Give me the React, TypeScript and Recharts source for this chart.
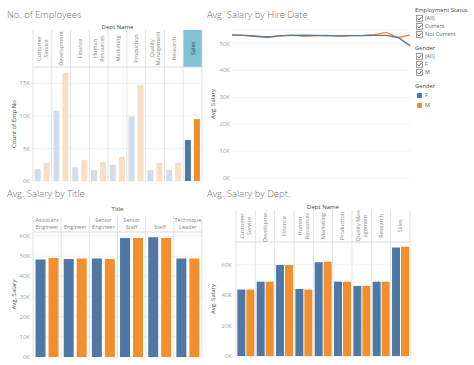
import React from 'react';
import { BarChart, Bar, LineChart, Line, XAxis, YAxis, CartesianGrid, Cell } from 'recharts';

const BLUE = '#4e79a7';
const ORANGE = '#f28e2b';
const BLUE_FADED = '#d3dde8';
const ORANGE_FADED = '#f8dec5';
const HILITE = '#80c2d4';
const RULE = '#dcdcdc';
const FONT = '"Open Sans", "Noto Sans", sans-serif';

// dept names + header wrapping
const depts = ['Customer Service', 'Development', 'Finance', 'Human Resources', 'Marketing', 'Production', 'Quality Management', 'Research', 'Sales'];
const deptHeadersTop = [['Customer', 'Service'], ['Development'], ['Finance'], ['Human', 'Resources'], ['Marketing'], ['Production'], ['Quality', 'Management'], ['Research'], ['Sales']];
const deptHeadersBottom = [['Customer', 'Service'], ['Developme..'], ['Finance'], ['Human', 'Resources'], ['Marketing'], ['Production'], ['Quality Man', 'agement'], ['Research'], ['Sales']];
const selectedDept = 'Sales';

// No. of Employees
const empCountF = [1800, 10800, 2100, 1700, 2500, 9900, 1700, 1700, 6300];
const empCountM = [2800, 16600, 3200, 2900, 3700, 14800, 2800, 2800, 9500];
const empTicks = [0, 5000, 10000, 15000];

// Avg. Salary by Hire Date
const hireYears = [1985, 1986, 1987, 1988, 1989, 1990, 1991, 1992, 1993, 1994, 1995, 1996, 1997, 1998, 1999, 2000];
const hireSalaryF = [53200, 53000, 52700, 52300, 52800, 53000, 53100, 53000, 52900, 52800, 52900, 52900, 53000, 53000, 52200, 49200];
const hireSalaryM = [53200, 53000, 52700, 52400, 52800, 53100, 52700, 52800, 53000, 52700, 52900, 53000, 53300, 54100, 52200, 53100];
const hireTicks = [0, 10000, 20000, 30000, 40000, 50000];

// Avg. Salary by Title
const titles = ['Assistant Engineer', 'Engineer', 'Senior Engineer', 'Senior Staff', 'Staff', 'Technique Leader'];
const titleHeaders = [['Assistant', 'Engineer'], ['Engineer'], ['Senior', 'Engineer'], ['Senior', 'Staff'], ['Staff'], ['Technique', 'Leader']];
const titleSalaryF = [48400, 48600, 48900, 59000, 59400, 48900];
const titleSalaryM = [49100, 48900, 48600, 59000, 59000, 48900];
const titleTicks = [0, 10000, 20000, 30000, 40000, 50000, 60000];

// Avg. Salary by Dept.
const deptSalaryF = [43700, 48900, 59800, 44100, 61600, 48900, 46100, 48900, 71400];
const deptSalaryM = [43700, 48900, 59800, 43700, 62000, 48900, 46100, 48900, 71800];
const deptTicks = [0, 20000, 40000, 60000];

const empData = depts.map((d, i) => ({ dept: d, F: empCountF[i], M: empCountM[i] }));
const hireData = hireYears.map((y, i) => ({ year: y, F: hireSalaryF[i], M: hireSalaryM[i] }));
const titleData = titles.map((t, i) => ({ title: t, F: titleSalaryF[i], M: titleSalaryM[i] }));
const deptSalData = depts.map((d, i) => ({ dept: d, F: deptSalaryF[i], M: deptSalaryM[i] }));

const kFmt = (v: number) => `${Math.round(v / 1000)}K`;
const tickStyle = { fontSize: 6, fill: '#a0a0a0', fontFamily: FONT };

function AxisTitle(props: any) {
  const vb = props.viewBox || { x: 0, y: 0, height: 0 };
  const x = vb.x + props.dx;
  const y = vb.y + vb.height / 2;
  return (
    <text x={x} y={y} transform={`rotate(-90 ${x} ${y})`} textAnchor="middle" dominantBaseline="central" fontSize={6} fill="#444" fontFamily={FONT}>
      {props.text}
    </text>
  );
}

// header cell drawn per category tick: divider rules, optional highlight, label
function HeaderTick(props: any) {
  const { x, payload, index, lines, top, bottom, plotBottom, band, count, rotated, textTop } = props;
  const label: string[] = lines[index] || [];
  const left = x - band / 2;
  const lh = 6.5;
  const hi = payload.value === props.highlight;
  return (
    <g>
      {hi && <rect x={left} y={top} width={band} height={bottom - top} fill={HILITE} />}
      <line x1={left} x2={left} y1={top} y2={plotBottom} stroke={RULE} strokeWidth={0.8} />
      {index === count - 1 && <line x1={left + band} x2={left + band} y1={top} y2={plotBottom} stroke={RULE} strokeWidth={0.8} />}
      <line x1={left} x2={left + band} y1={bottom} y2={bottom} stroke={RULE} strokeWidth={0.8} />
      {rotated ? (
        <text transform={`translate(${x},${(top + bottom) / 2}) rotate(-90)`} textAnchor="middle" fontSize={5.5} fill={hi ? '#333' : '#888'} fontFamily={FONT}>
          {label.map((l, i) => (
            <tspan key={i} x={0} y={(i - (label.length - 1) / 2) * lh + 2}>{l}</tspan>
          ))}
        </text>
      ) : (
        <text textAnchor="middle" fontSize={5.5} fill="#888" fontFamily={FONT}>
          {label.map((l, i) => (
            <tspan key={i} x={x} y={textTop + (i + 1 - label.length) * 7.5}>{l}</tspan>
          ))}
        </text>
      )}
    </g>
  );
}

function Title({ text, left, top }: { text: string; left: number; top: number }) {
  return (
    <div style={{ position: 'absolute', left, top, fontSize: 9.5, fontWeight: 300, color: '#707070', fontFamily: FONT, whiteSpace: 'nowrap', lineHeight: '12px' }}>
      {text}
    </div>
  );
}

function Check({ label, top }: { label: string; top: number }) {
  return (
    <div style={{ position: 'absolute', left: 416, top, display: 'flex', alignItems: 'center', fontSize: 5.5, color: '#666', fontFamily: FONT }}>
      <svg width={7} height={7} style={{ marginRight: 2 }}>
        <rect x={0.5} y={0.5} width={6} height={6} fill="#fff" stroke="#777" strokeWidth={0.7} />
        <polyline points="1.6,3.6 3,5 5.6,1.8" fill="none" stroke="#444" strokeWidth={0.8} />
      </svg>
      {label}
    </div>
  );
}

function Swatch({ color, label, top }: { color: string; label: string; top: number }) {
  return (
    <div style={{ position: 'absolute', left: 417, top, display: 'flex', alignItems: 'center', fontSize: 5.5, color: '#666', fontFamily: FONT }}>
      <span style={{ width: 5, height: 5, background: color, marginRight: 3, display: 'inline-block' }} />
      {label}
    </div>
  );
}

function Head({ text, top }: { text: string; top: number }) {
  return (
    <div style={{ position: 'absolute', left: 415, top, fontSize: 5.8, color: '#444', fontFamily: FONT, whiteSpace: 'nowrap' }}>{text}</div>
  );
}

export default function App() {
  // panel 1 geometry
  const p1 = { w: 210, h: 169, m: { top: 12, right: 8, bottom: 6, left: 0 }, yw: 33, xh: 37 };
  const p1Band = (p1.w - p1.m.right - p1.yw) / depts.length;
  // panel 3 geometry
  const p3 = { w: 210, h: 165, m: { top: 18, right: 8, bottom: 6, left: 0 }, yw: 33, xh: 16 };
  const p3Band = (p3.w - p3.m.right - p3.yw) / titles.length;
  // panel 4 geometry
  const p4 = { w: 214, h: 164, m: { top: 12, right: 4, bottom: 6, left: 0 }, yw: 36, xh: 32 };
  const p4Band = (p4.w - p4.m.right - p4.yw) / depts.length;

  return (
    <div style={{ position: 'absolute', left: 0, top: 0, width: 474, height: 365, background: '#fff', overflow: 'hidden' }}>
      <Title text="No. of Employees" left={7} top={9} />
      <Title text="Avg. Salary by Hire Date" left={207} top={9} />
      <Title text="Avg. Salary by Title" left={7} top={188} />
      <Title text="Avg. Salary by Dept." left={207} top={188} />

      <div style={{ position: 'absolute', left: 0, top: 18 }}>
        <BarChart width={p1.w} height={p1.h} data={empData} margin={p1.m} barCategoryGap="9%" barGap={3}>
          <CartesianGrid vertical={false} stroke="#f1f1f1" />
          <XAxis
            dataKey="dept"
            orientation="top"
            height={p1.xh}
            interval={0}
            tickLine={false}
            axisLine={false}
            label={{ value: 'Dept Name', position: 'top', offset: 1, fontSize: 6, fill: '#444', fontFamily: FONT }}
            tick={(t: any) => (
              <HeaderTick {...t} lines={deptHeadersTop} top={p1.m.top} bottom={p1.m.top + p1.xh} plotBottom={p1.h - p1.m.bottom} band={p1Band} count={depts.length} rotated highlight={selectedDept} />
            )}
          />
          <YAxis width={p1.yw} domain={[0, 17500]} ticks={empTicks} interval={0} tickFormatter={kFmt} tick={tickStyle} tickLine={false} axisLine={false} tickSize={0} tickMargin={3} label={<AxisTitle text="Count of Emp No" dx={14} />} />
          <Bar dataKey="F" isAnimationActive={false}>
            {empData.map((d) => (
              <Cell key={d.dept} fill={d.dept === selectedDept ? BLUE : BLUE_FADED} />
            ))}
          </Bar>
          <Bar dataKey="M" isAnimationActive={false}>
            {empData.map((d) => (
              <Cell key={d.dept} fill={d.dept === selectedDept ? ORANGE : ORANGE_FADED} />
            ))}
          </Bar>
        </BarChart>
      </div>

      <div style={{ position: 'absolute', left: 200, top: 18 }}>
        <LineChart width={214} height={166} data={hireData} margin={{ top: 12, right: 4, bottom: 6, left: 0 }}>
          <CartesianGrid vertical={false} stroke="#f1f1f1" />
          <XAxis dataKey="year" hide />
          <YAxis width={32} domain={[0, 55000]} ticks={hireTicks} interval={0} tickFormatter={kFmt} tick={tickStyle} tickLine={false} axisLine={false} tickSize={0} tickMargin={2} label={<AxisTitle text="Avg. Salary" dx={13} />} />
          <Line type="linear" dataKey="M" stroke={ORANGE} strokeWidth={1.4} dot={false} isAnimationActive={false} />
          <Line type="linear" dataKey="F" stroke={BLUE} strokeWidth={1.4} dot={false} isAnimationActive={false} />
        </LineChart>
      </div>

      <div style={{ position: 'absolute', left: 0, top: 198 }}>
        <BarChart width={p3.w} height={p3.h} data={titleData} margin={p3.m} barCategoryGap="9%" barGap={3}>
          <CartesianGrid vertical={false} stroke="#f1f1f1" />
          <XAxis
            dataKey="title"
            orientation="top"
            height={p3.xh}
            interval={0}
            tickLine={false}
            axisLine={false}
            label={{ value: 'Title', position: 'top', offset: 5, fontSize: 6, fill: '#444', fontFamily: FONT }}
            tick={(t: any) => (
              <HeaderTick {...t} lines={titleHeaders} top={p3.m.top} bottom={p3.m.top + p3.xh} plotBottom={p3.h - p3.m.bottom} band={p3Band} count={titles.length} textTop={p3.m.top + 13} />
            )}
          />
          <YAxis width={p3.yw} domain={[0, 62000]} ticks={titleTicks} interval={0} tickFormatter={kFmt} tick={tickStyle} tickLine={false} axisLine={false} tickSize={0} tickMargin={3} label={<AxisTitle text="Avg. Salary" dx={14} />} />
          <Bar dataKey="F" fill={BLUE} isAnimationActive={false} />
          <Bar dataKey="M" fill={ORANGE} isAnimationActive={false} />
        </BarChart>
      </div>

      <div style={{ position: 'absolute', left: 200, top: 198 }}>
        <BarChart width={p4.w} height={p4.h} data={deptSalData} margin={p4.m} barCategoryGap="7%" barGap={1}>
          <CartesianGrid vertical={false} stroke="#f1f1f1" />
          <XAxis
            dataKey="dept"
            orientation="top"
            height={p4.xh}
            interval={0}
            tickLine={false}
            axisLine={false}
            label={{ value: 'Dept Name', position: 'top', offset: 1, fontSize: 6, fill: '#444', fontFamily: FONT }}
            tick={(t: any) => (
              <HeaderTick {...t} lines={deptHeadersBottom} top={p4.m.top} bottom={p4.m.top + p4.xh} plotBottom={p4.h - p4.m.bottom} band={p4Band} count={depts.length} rotated />
            )}
          />
          <YAxis width={p4.yw} domain={[0, 75000]} ticks={deptTicks} interval={0} tickFormatter={kFmt} tick={tickStyle} tickLine={false} axisLine={false} tickSize={0} tickMargin={4} label={<AxisTitle text="Avg. Salary" dx={13} />} />
          <Bar dataKey="F" fill={BLUE} isAnimationActive={false} />
          <Bar dataKey="M" fill={ORANGE} isAnimationActive={false} />
        </BarChart>
      </div>

      <Head text="Employment Status" top={6} />
      <Check label="(All)" top={14} />
      <Check label="Current" top={22} />
      <Check label="Not Current" top={30} />
      <Head text="Gender" top={44} />
      <Check label="(All)" top={52} />
      <Check label="F" top={60} />
      <Check label="M" top={68} />
      <Head text="Gender" top={82} />
      <Swatch color={BLUE} label="F" top={91} />
      <Swatch color={ORANGE} label="M" top={101} />
    </div>
  );
}
